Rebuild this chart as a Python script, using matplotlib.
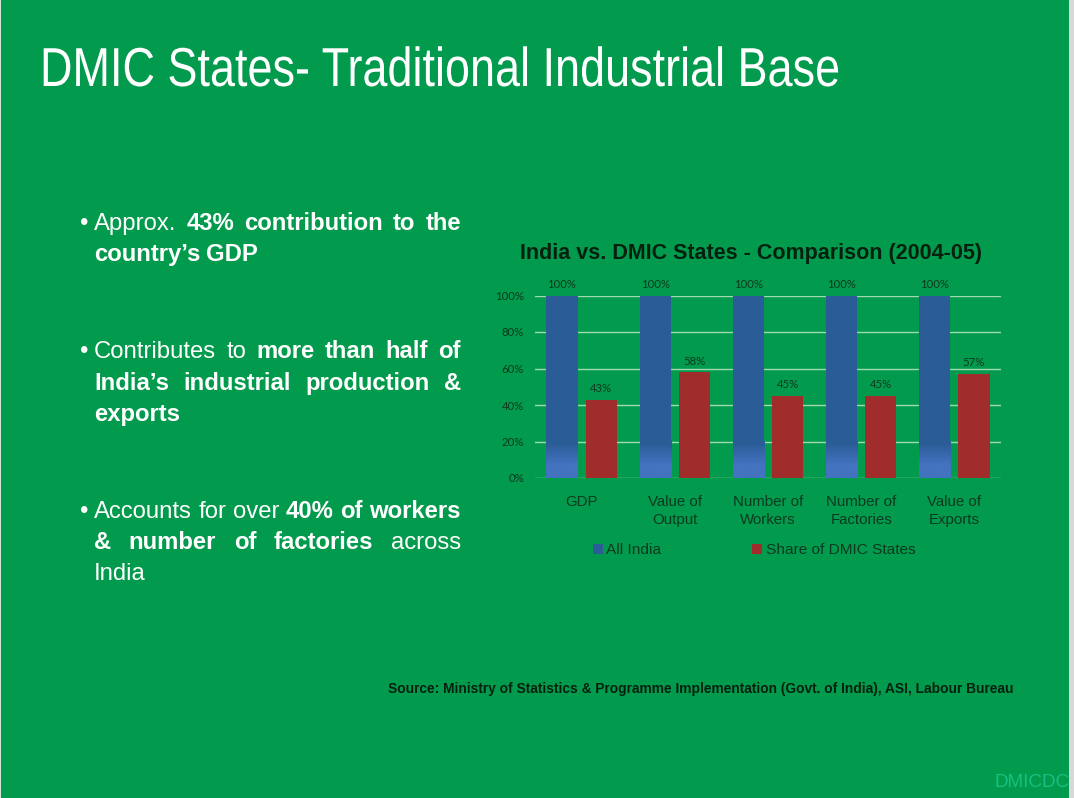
import numpy as np
import matplotlib
matplotlib.use('Agg')
import matplotlib.pyplot as plt
from matplotlib.colors import LinearSegmentedColormap
from matplotlib.patches import Rectangle
from matplotlib.patheffects import AbstractPathEffect
from matplotlib.transforms import Affine2D

W, H = 1074, 798

categories = ['GDP', 'Value of\nOutput', 'Number of\nWorkers', 'Number of\nFactories', 'Value of\nExports']
all_india = [100, 100, 100, 100, 100]
dmic_share = [43, 58, 45, 45, 57]
y_ticks = [0, 20, 40, 60, 80, 100]

# each line is a list of (word, bold)
bullet_1 = [
    [('Approx.', 0), ('43%', 1), ('contribution', 1), ('to', 1), ('the', 1)],
    [("country’s", 1), ('GDP', 1)],
]
bullet_2 = [
    [('Contributes', 0), ('to', 0), ('more', 1), ('than', 1), ('half', 1), ('of', 1)],
    [("India’s", 1), ('industrial', 1), ('production', 1), ('&', 1)],
    [('exports', 1)],
]
bullet_3 = [
    [('Accounts', 0), ('for', 0), ('over', 0), ('40%', 1), ('of', 1), ('workers', 1)],
    [('&', 1), ('number', 1), ('of', 1), ('factories', 1), ('across', 0)],
    [('India', 0)],
]

GREEN = '#029a4c'
DARK = '#0c3a20'
BLUE = '#2a5c96'
BLUE_LOW = '#4473c0'
RED = '#a12c2c'
GRID = '#a0dab0'
SMALL_FONT = ['Lato', 'DejaVu Sans']

plt.rcParams['font.family'] = ['Liberation Sans', 'DejaVu Sans']

fig = plt.figure(figsize=(W / 100, H / 100), dpi=100, facecolor=GREEN)


def fx(x):
    return x / W


def fy(y):
    return 1 - y / H


class Squeeze(AbstractPathEffect):
    # the title font is condensed, none installed, so narrow the glyphs around x0
    def __init__(self, x0, sx):
        super().__init__()
        self.x0 = x0
        self.sx = sx

    def draw_path(self, renderer, gc, tpath, affine, rgbFace=None):
        squeeze = Affine2D().translate(-self.x0, 0).scale(self.sx, 1).translate(self.x0, 0)
        renderer.draw_path(gc, tpath, affine + squeeze, rgbFace)


# slide edges
fig.add_artist(Rectangle((fx(1069), 0), 5 / W, 1, transform=fig.transFigure, fc='#d8d8d8', ec='none', zorder=5))
fig.add_artist(Rectangle((0, 0), 1 / W, 1, transform=fig.transFigure, fc='#cfe8d8', ec='none', zorder=5))

fig.text(fx(40), fy(86), 'DMIC States- Traditional Industrial Base', color='white', fontsize=39.5, va='baseline',
         path_effects=[Squeeze(40, 0.82)])


def draw_lines(lines, baselines, left=94, right=461, size=17.2):
    renderer = fig.canvas.get_renderer()
    for i, (line, base) in enumerate(zip(lines, baselines)):
        texts = [fig.text(fx(left), fy(base), w, color='white', fontsize=size, va='baseline',
                          fontweight='bold' if b else 'normal') for w, b in line]
        widths = [t.get_window_extent(renderer).width for t in texts]
        if i < len(lines) - 1 and len(line) > 1:
            gap = (right - left - sum(widths)) / (len(line) - 1)
        else:
            gap = 6
        x = left
        for t, w in zip(texts, widths):
            t.set_x(fx(x))
            x += w + gap
    fig.text(fx(80), fy(baselines[0]), '•', color='white', fontsize=size, va='baseline')


draw_lines(bullet_1, [230, 261])
draw_lines(bullet_2, [358, 390, 421])
draw_lines(bullet_3, [518, 549, 580])

fig.text(fx(751.5), fy(259), 'India vs. DMIC States - Comparison (2004-05)', color='#06200f', fontsize=15.5,
         fontweight='bold', ha='center', va='baseline')
fig.text(fx(700.5), fy(693), 'Source: Ministry of Statistics & Programme Implementation (Govt. of India), ASI, Labour Bureau',
         color='#06200f', fontsize=9.9, fontweight='bold', ha='center', va='baseline')
fig.text(fx(994), fy(787), 'DMICDC', color='#17c080', fontsize=13.6, va='baseline', zorder=0)

# chart
ax = fig.add_axes([fx(535), fy(478), (1001 - 535) / W, (478 - 295.5) / H])
ax.patch.set_alpha(0)
x = np.arange(len(categories))
bar_w = 0.335
off = 0.21

bars = ax.bar(x - off, all_india, bar_w, color=BLUE, label='All India', zorder=2)
reds = ax.bar(x + off, dmic_share, bar_w, color=RED, label='Share of DMIC States', zorder=2)

# lighter band at the foot of the blue bars
cmap = LinearSegmentedColormap.from_list('foot', [(0, BLUE_LOW), (0.35, BLUE_LOW), (0.95, BLUE), (1, BLUE)])
grad = np.linspace(0, 1, 200).reshape(-1, 1)
for b in bars:
    ax.imshow(grad[::-1], extent=[b.get_x(), b.get_x() + b.get_width(), 0, 20], cmap=cmap,
              aspect='auto', zorder=3, interpolation='bilinear')

ax.set_xlim(-0.5, len(categories) - 0.5)
ax.set_ylim(0, 100)
ax.set_yticks(y_ticks)
ax.set_yticklabels([f'{v}%' for v in y_ticks], fontsize=8.2, color=DARK, family=SMALL_FONT)
ax.set_xticks(x)
ax.set_xticklabels(categories, fontsize=10.8, color=DARK, linespacing=1.4)
ax.tick_params(axis='both', length=0)
ax.tick_params(axis='x', pad=12)
ax.tick_params(axis='y', pad=8)
ax.grid(axis='y', color=GRID, lw=1, zorder=1)
for s in ax.spines.values():
    s.set_visible(False)

for b, v in zip(bars, all_india):
    ax.annotate(f'{v}%', (b.get_x() + b.get_width() / 2, v), xytext=(0, 4), textcoords='offset points', clip_on=False,
                ha='center', va='bottom', fontsize=8.2, color=DARK, family=SMALL_FONT)
for b, v in zip(reds, dmic_share):
    ax.annotate(f'{v}%', (b.get_x() + b.get_width() / 2, v), xytext=(0, 4), textcoords='offset points',
                ha='center', va='bottom', fontsize=8.2, color=DARK, family=SMALL_FONT)

ax.legend(loc='center left', bbox_to_anchor=(fx(593), fy(550)), bbox_transform=fig.transFigure, ncol=2, frameon=False,
          fontsize=11.1, handlelength=0.62, handleheight=0.62, handletextpad=0.25, columnspacing=5.9, labelcolor=DARK,
          borderpad=0, borderaxespad=0)

fig.savefig('out.png', dpi=100, facecolor=GREEN)
